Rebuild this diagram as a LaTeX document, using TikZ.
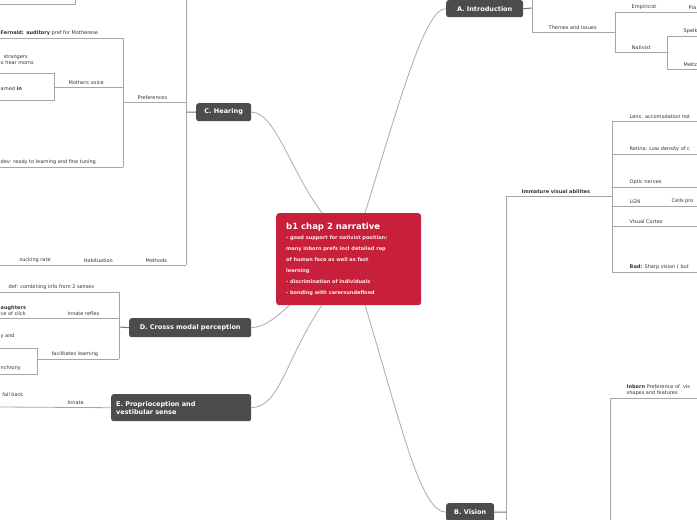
\documentclass[tikz,border=0pt]{standalone}
\usepackage{fontspec}
\setmainfont{DejaVu Sans}
\begin{document}
\begin{tikzpicture}[x=1pt,y=-1pt,
  ln/.style={draw=black!35,line width=0.8pt},
  lk/.style={draw=black!55,line width=1pt},
  cv/.style={draw=black!30,line width=0.9pt},
  lbl/.style={inner sep=0.5pt,anchor=south west,text=black!80,font=\fontsize{5}{6}\selectfont},
  topic/.style={fill=black!70,rounded corners=2.5pt,text=white,font=\fontsize{6.5}{8}\selectfont\bfseries,anchor=north west,inner sep=0pt}]
\useasboundingbox (0,0) rectangle (697,520);
% central
\node[fill={rgb,255:red,200;green,32;blue,58},rounded corners=3pt,minimum width=145pt,minimum height=92pt,anchor=north west] (c) at (276,213) {};
\node[anchor=north west,text=white,font=\fontsize{8.5}{10}\selectfont\bfseries,inner sep=0pt] (ct) at (286,223) {b1 chap 2 narrative};
\node[anchor=north west,text=white!92!red,font=\fontsize{5}{11}\selectfont\bfseries,inner sep=0pt,align=left] (cb) at (286,235) {- good support for nativist position:\\many inborn prefs incl detailed rep\\of human face as well as fast\\learning\\- discrimination of individuals\\- bonding with carersundefined};
% topics
\node[topic,minimum width=77pt,minimum height=17pt] (A) at (446,0) {A. Introduction};
\node[topic,minimum width=55pt,minimum height=18pt] (C) at (196,103) {C. Hearing};
\node[topic,minimum width=122pt,minimum height=19pt] (D) at (129,318) {D. Crosss modal perception};
\node[topic,minimum width=140pt,minimum height=27pt,align=left,text width=130pt,inner xsep=5pt] (E) at (111,394) {E. Proprioception and\\vestibular sense};
\node[topic,minimum width=48pt,minimum height=18pt] (B) at (446,503) {B. Vision};
% curves
\draw[cv] (365,213) .. controls (400,100) and (425,8) .. (A.west);
\draw[cv] (322,213) .. controls (290,170) and (275,112) .. (C.east);
\draw[cv] (290,305) .. controls (275,318) and (265,327) .. (D.east);
\draw[cv] (322,305) .. controls (285,360) and (280,407) .. (E.east);
\draw[cv] (365,305) .. controls (400,420) and (420,512) .. (B.west);
% A subtree
\draw[lk] (A.east) -- (532,8);
\draw[ln] (532,0) -- (532,32) -- (615,32);
\node[lbl] (tai) at (548,30) {Themes and Issues};
\draw[ln] (615,12) -- (615,52);
\draw[ln] (615,12) -- (697,12); \node[lbl] (emp) at (631,10) {Empiricist}; \node[lbl] (pia) at (688,10) {Pia};
\draw[ln] (615,52) -- (667,52); \node[lbl] (nat) at (631,50) {Nativist};
\draw[ln] (667,36) -- (667,69);
\draw[ln] (667,36) -- (697,36); \node[lbl] (spe) at (683,34) {Spelk};
\draw[ln] (667,69) -- (697,69); \node[lbl] (mel) at (683,67) {Meltz};
% B subtree
\draw[lk] (B.east) -- (506,512);
\draw[ln] (506,196) -- (506,520);
\draw[ln] (506,196) -- (612,196); \node[lbl,font=\fontsize{5}{6}\selectfont\bfseries] (imm) at (521,194) {Immature visual abilites};
\draw[ln] (612,121) -- (612,272);
\draw[ln] (612,121) -- (697,121); \node[lbl] (lens) at (629,119) {Lens: accomodation not};
\draw[ln] (612,154) -- (697,154); \node[lbl] (ret) at (629,152) {Retina: Low density of c};
\draw[ln] (612,187) -- (697,187); \node[lbl] (opt) at (629,185) {Optic nerves};
\draw[ln] (612,206) -- (697,206); \node[lbl] (lgn) at (629,204) {LGN}; \node[lbl] (cel) at (671,204) {Cells pro};
\draw[ln] (612,226) -- (697,226); \node[lbl] (vc) at (629,224) {Visual Cortex};
\draw[ln] (612,272) -- (697,272); \node[lbl] (bad) at (629,270) {\textbf{Bad:} Sharp vision ( but};
\draw[ln] (610,398) -- (697,398) (610,398) -- (610,520);
\node[lbl,align=left] (inb) at (626,396) {\textbf{Inborn} Preference of \ vis\\shapes and features};
% C subtree
\draw[lk] (C.west) -- (186,112);
\draw[ln] (186,0) -- (186,265);
\draw[ln] (0,265) -- (186,265);
\node[lbl] (meth) at (145,263) {Methods};
\node[lbl] (hab) at (83,263) {Habituation};
\node[lbl] (suck) at (19,263) {sucking rate};
\draw[ln] (0,4) -- (75,4) -- (75,0);
\draw[ln] (123,102) -- (186,102); \node[lbl] (pref) at (137,100) {Preferences};
\draw[ln] (123,38) -- (123,167);
\draw[ln] (0,38) -- (123,38); \node[lbl] (fer) at (0,36) {\textbf{Fernald: auditory} pref for Motherese};
\node[lbl,align=left] (str) at (0,65) {\ \ strangers\\o hear moms};
\draw[ln] (55,87) -- (123,87); \node[lbl] (mv) at (68,85) {Mothers voice};
\draw[ln] (0,73) -- (54,73) -- (54,100) -- (0,100);
\node[lbl] (arn) at (0,91) {arned \textbf{in}};
\draw[ln] (0,167) -- (123,167); \node[lbl] (dev) at (0,165) {dev: ready to learning and fine tuning};
% D subtree
\draw[lk] (D.west) -- (119,327);
\draw[ln] (119,292) -- (119,359);
\draw[ln] (0,292) -- (119,292); \node[lbl] (def) at (8,290) {def: combining info from 2 senses};
\draw[ln] (0,318) -- (119,318); \node[lbl] (inr) at (67,316) {innate reflex};
\node[lbl,align=left] (lau) at (0,316) {\textbf{aughters}\\ce of click};
\node[lbl] (yand) at (0,339) {y and};
\draw[ln] (37,359) -- (119,359); \node[lbl] (fac) at (51,357) {facilitates learning};
\draw[ln] (0,348) -- (37,348) -- (37,374) -- (0,374);
\node[lbl] (syn) at (0,371) {nchrony};
% E subtree
\draw[ln] (0,407) -- (E.west); \node[lbl] (inn) at (67,405) {Innate};
\node[lbl] (fall) at (0,397) {\ fall back};
\end{tikzpicture}
\end{document}
